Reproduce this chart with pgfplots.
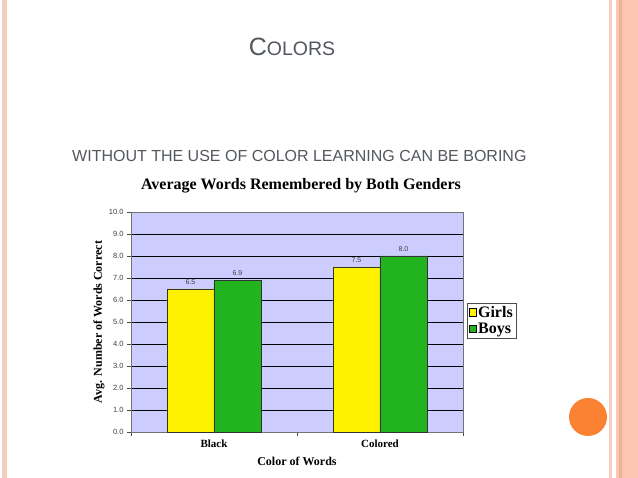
\documentclass[border=0pt]{standalone}
\usepackage{fontspec}
\setmainfont{Liberation Serif}
\setsansfont{Liberation Sans}
\usepackage{pgfplots}
\pgfplotsset{compat=1.18}

\definecolor{girlsyellow}{HTML}{FFF200}
\definecolor{boysgreen}{HTML}{22B41E}
\definecolor{plotbg}{HTML}{CCCCFF}
\definecolor{slidegray}{HTML}{53575E}
\definecolor{stripelight}{HTML}{F6CDBF}
\definecolor{salmon}{HTML}{FDC6B3}
\definecolor{salmondark}{HTML}{F2AE96}
\definecolor{dotorange}{HTML}{FB8233}

\begin{document}
\begin{tikzpicture}
% slide background and decoration
\path[use as bounding box, fill=white] (0pt,0pt) rectangle (638pt,478pt);
\fill[stripelight] (2pt,0pt) rectangle (7pt,478pt);
\fill[salmondark!70] (3.5pt,0pt) rectangle (5pt,478pt);
\fill[stripelight] (609pt,0pt) rectangle (612pt,478pt);
\fill[salmon] (616pt,0pt) rectangle (638pt,478pt);
\fill[salmondark] (619pt,0pt) rectangle (622pt,478pt);
\fill[dotorange] (588pt,61pt) circle (19pt);

% slide title and subtitle
\node[anchor=base, inner sep=0pt, text=slidegray] at (292pt,422pt)
  {\sffamily\fontsize{25}{30}\selectfont C\fontsize{19.5}{24}\selectfont OLORS};
\node[anchor=base west, inner sep=0pt, text=slidegray] at (72pt,316pt)
  {\sffamily\fontsize{16}{19}\selectfont WITHOUT THE USE OF COLOR LEARNING CAN BE BORING};

\begin{axis}[
    at={(131pt,46pt)}, anchor=south west,
    scale only axis,
    width=332pt, height=220pt,
    ybar=0pt, bar width=47pt,
    xmin=-0.5, xmax=1.5,
    ymin=0, ymax=10,
    xtick={0,1},
    xticklabels={Black,Colored},
    minor xtick={-0.5,0.5,1.5},
    ytick={0,1,...,10},
    xtick pos=lower, ytick pos=left,
    tick align=outside,
    major tick length=4pt,
    minor tick length=4pt,
    major x tick style={draw=none},
    tick style={black!70},
    ymajorgrids=true,
    major grid style={black, line width=0.7pt},
    axis background/.style={fill=plotbg},
    axis line style={black!55},
    /pgf/number format/.cd, fixed, fixed zerofill, precision=1, assume math mode=true,
    /pgfplots/.cd,
    yticklabel style={font=\sffamily\fontsize{7.5}{8}\selectfont, text=black!75},
    xticklabel style={font=\bfseries\fontsize{11}{12}\selectfont},
    title={Average Words Remembered by Both Genders},
    title style={at={(0.512,1)}, anchor=base, yshift=16pt,
                 font=\bfseries\fontsize{16}{18}\selectfont},
    xlabel={Color of Words},
    xlabel style={at={(0.5,0)}, anchor=base, yshift=-34pt,
                  font=\bfseries\fontsize{12}{14}\selectfont},
    ylabel={Avg. Number of Words Correct},
    ylabel style={at={(-0.0964,0.5)}, anchor=center,
                  font=\bfseries\fontsize{12}{14}\selectfont},
    nodes near coords,
    every node near coord/.append style={font=\sffamily\fontsize{7}{8}\selectfont,
                  text=black!75, yshift=1pt},
    legend style={at={(1.012,0.586)}, anchor=north west,
                  font=\bfseries\fontsize{16}{18}\selectfont, draw=black!70,
                  inner sep=1.5pt, row sep=1pt, cells={anchor=west},
                  nodes={inner sep=1.5pt}},
    legend image code/.code={\draw[#1, draw=black] (0pt,-3.5pt) rectangle (7.5pt,4pt);},
    clip=false,
]
\addplot[fill=girlsyellow, draw=black!80] coordinates {(0,6.5) (1,7.5)};
\addlegendentry{Girls}
\addplot[fill=boysgreen, draw=black!80] coordinates {(0,6.9) (1,8.0)};
\addlegendentry{Boys}
\end{axis}
\end{tikzpicture}
\end{document}
